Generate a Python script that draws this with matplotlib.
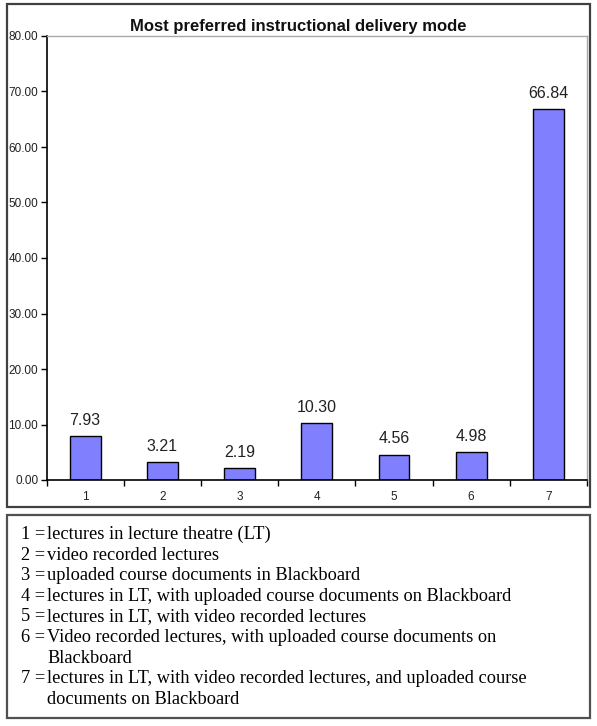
import matplotlib
matplotlib.use("Agg")
import matplotlib.pyplot as plt
from matplotlib.patches import Rectangle

categories = ["1", "2", "3", "4", "5", "6", "7"]
values = [7.93, 3.21, 2.19, 10.30, 4.56, 4.98, 66.84]
y_ticks = [0, 10, 20, 30, 40, 50, 60, 70, 80]
title = "Most preferred instructional delivery mode"
key_numbers = ["1 =", "2 =", "3 =", "4 =", "5 =", "6 =", "", "7 =", ""]
key_texts = [
    "lectures in lecture theatre (LT)",
    "video recorded lectures",
    "uploaded course documents in Blackboard",
    "lectures in LT, with uploaded course documents on Blackboard",
    "lectures in LT, with video recorded lectures",
    "Video recorded lectures, with uploaded course documents on",
    "Blackboard",
    "lectures in LT, with video recorded lectures, and uploaded course",
    "documents on Blackboard",
]

W, H = 597, 726
fig = plt.figure(figsize=(W / 100, H / 100), dpi=100)


def px_rect(x0, y0, x1, y1):
    # pixel box (top-left origin) -> figure fraction
    return [x0 / W, 1 - y1 / H, (x1 - x0) / W, (y1 - y0) / H]


# outer frames
fig.patches.append(Rectangle((7 / W, 1 - 507 / H), 583 / W, 503 / H,
                             transform=fig.transFigure, fill=False,
                             edgecolor="#404040", linewidth=1.6))
fig.patches.append(Rectangle((7 / W, 1 - 718 / H), 583 / W, 203 / H,
                             transform=fig.transFigure, fill=False,
                             edgecolor="#505050", linewidth=1.6))

ax = fig.add_axes(px_rect(46.5, 36, 587, 480))
x = list(range(len(categories)))
bars = ax.bar(x, values, width=0.4, color="#8080ff", edgecolor="black", linewidth=1.0)
for xi, v in zip(x, values):
    ax.annotate(f"{v:.2f}", (xi, v), xytext=(0, 6), textcoords="offset points",
                ha="center", va="bottom", fontsize=11.5, color="#222222",
                family="Liberation Sans")

ax.set_xlim(-0.5, len(categories) - 0.5)
ax.set_ylim(0, 80)
ax.set_yticks(y_ticks)
ax.set_yticklabels([f"{t:.2f}" for t in y_ticks], fontsize=8.5,
                   family="Liberation Sans", color="#222222")
ax.set_xticks(x)
ax.set_xticklabels(categories, fontsize=8.5, family="Liberation Sans", color="#222222")
ax.tick_params(axis="x", length=0, pad=8)
ax.set_xticks([i + 0.5 for i in x[:-1]] + [-0.5, len(categories) - 0.5], minor=True)
ax.tick_params(axis="x", which="minor", length=4, width=1, color="black")
ax.tick_params(axis="y", length=4, width=1, pad=2)
for s in ("left", "bottom"):
    ax.spines[s].set_color("black")
    ax.spines[s].set_linewidth(1.2)
for s in ("top", "right"):
    ax.spines[s].set_color("#a8a8a8")
    ax.spines[s].set_linewidth(1.0)

fig.text(0.5, 1 - 27 / H, title, ha="center", va="center", fontsize=12,
         fontweight="bold", family="Liberation Sans", color="#111111")

# key below the chart, one baseline per line
y0 = 539
for i, (num, txt) in enumerate(zip(key_numbers, key_texts)):
    yy = 1 - (y0 + i * 20.6) / H
    if num:
        fig.text(21 / W, yy, num, ha="left", va="baseline", fontsize=13.2,
                 family="Liberation Serif", color="black")
    fig.text(47 / W, yy, txt, ha="left", va="baseline", fontsize=13.2,
             family="Liberation Serif", color="black")

fig.savefig("out.png", dpi=100)
